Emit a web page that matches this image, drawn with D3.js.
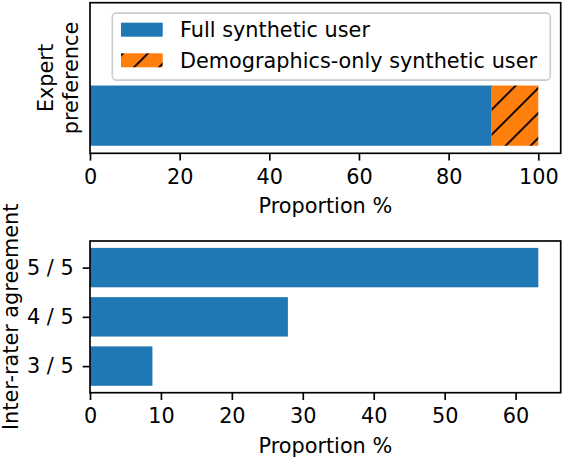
<!DOCTYPE html>
<html>
<head>
<meta charset="utf-8">
<script src="https://cdn.jsdelivr.net/npm/d3@7"></script>
<style>
  body { margin: 0; background: #fff; }
  text { font-family: "DejaVu Sans", sans-serif; fill: #000; }
</style>
</head>
<body>
<script>
(() => {
    // expert preference (stacked, one bar)
    const prefSeries = ["Full synthetic user", "Demographics-only synthetic user"]
    const prefValues = [89.6, 10.4]
    const prefTicks = [0, 20, 40, 60, 80, 100]

    // inter-rater agreement
    const agreeCats = ["3 / 5", "4 / 5", "5 / 5"]
    const agreeValues = [8.8, 27.9, 63.2]
    const agreeTicks = [0, 10, 20, 30, 40, 50, 60]

    const blue = "#1f77b4"
    const orange = "#ff7f0e"
    const fs = 20.8
    const lw = 1.67
    const tickLen = 7.3
    const width = 563
    const height = 457
    const left = 90
    const right = 560.7

    const svg = d3.select("body")
        .append("svg")
        .attr("width", width)
        .attr("height", height)

    // hatch '/' like matplotlib
    svg.append("defs").append("pattern")
        .attr("id", "hatch")
        .attr("patternUnits", "userSpaceOnUse")
        .attr("width", 25 / Math.SQRT2)
        .attr("height", 25 / Math.SQRT2)
        .attr("patternTransform", "rotate(45)")
        .call((p) => {
            p.append("rect")
                .attr("width", 25 / Math.SQRT2)
                .attr("height", 25 / Math.SQRT2)
                .attr("fill", orange)
            p.append("line")
                .attr("x1", 0).attr("y1", -2)
                .attr("x2", 0).attr("y2", 25 / Math.SQRT2 + 2)
                .attr("stroke", "#000")
                .attr("stroke-width", 3.6)
        })

    const styleAxis = (g) => {
        g.select(".domain").remove()
        g.selectAll(".tick line").attr("stroke", "#000").attr("stroke-width", lw)
        g.selectAll(".tick text")
            .attr("font-size", fs)
            .attr("font-family", "DejaVu Sans")
            .attr("fill", "#000")
    }

    // ---------- top panel ----------
    const top1 = 2.7, bot1 = 153.3
    const x1 = d3.scaleLinear().domain([0, 105]).range([left, right])
    const y1 = d3.scaleLinear().domain([-0.5, 1.5]).range([bot1, top1])

    const stacked = prefValues.map((v, i) => ({
        x0: d3.sum(prefValues.slice(0, i)),
        x1: d3.sum(prefValues.slice(0, i + 1)),
        name: prefSeries[i],
    }))
    const g1 = svg.append("g")
    g1.selectAll("rect.pref")
        .data(stacked)
        .join("rect")
        .attr("class", "pref")
        .attr("x", (d) => x1(d.x0))
        .attr("width", (d) => x1(d.x1) - x1(d.x0))
        .attr("y", y1(0.4))
        .attr("height", y1(-0.4) - y1(0.4))
        .attr("fill", (_, i) => i === 0 ? blue : "url(#hatch)")

    g1.append("g")
        .attr("transform", `translate(0,${bot1})`)
        .call(d3.axisBottom(x1).tickValues(prefTicks).tickFormat(d3.format("d"))
            .tickSize(tickLen).tickPadding(8.6))
        .call(styleAxis)

    g1.append("rect")
        .attr("x", left).attr("y", top1)
        .attr("width", right - left).attr("height", bot1 - top1)
        .attr("fill", "none").attr("stroke", "#000").attr("stroke-width", lw)

    g1.append("text")
        .attr("x", (left + right) / 2).attr("y", 213.3)
        .attr("text-anchor", "middle").attr("font-size", fs)
        .text("Proportion %")

    ;["Expert", "preference"].forEach((t, i) => {
        g1.append("text")
            .attr("transform", `translate(${53 + i * 24.5},${(top1 + bot1) / 2}) rotate(-90)`)
            .attr("text-anchor", "middle").attr("font-size", fs)
            .text(t)
    })

    // legend
    const lg = g1.append("g")
    lg.append("rect")
        .attr("x", 112.3).attr("y", 13.1)
        .attr("width", 438).attr("height", 67)
        .attr("rx", 4)
        .attr("fill", "#fff").attr("fill-opacity", 0.8)
        .attr("stroke", "#cccccc").attr("stroke-width", 1.6)
    prefSeries.forEach((name, i) => {
        const cy = 29.7 + i * 30.6
        lg.append("rect")
            .attr("x", 121).attr("y", cy - 7)
            .attr("width", 41.7).attr("height", 14)
            .attr("fill", i === 0 ? blue : "url(#hatch)")
        lg.append("text")
            .attr("x", 180).attr("y", cy).attr("dy", "0.36em")
            .attr("font-size", fs)
            .text(name)
    })

    // ---------- bottom panel ----------
    const top2 = 241, bot2 = 392.7
    const x2 = d3.scaleLinear().domain([0, d3.max(agreeValues) * 1.05]).range([left, right])
    const y2 = d3.scaleLinear().domain([-0.54, agreeCats.length - 1 + 0.54]).range([bot2, top2])

    const g2 = svg.append("g")
    g2.selectAll("rect.agree")
        .data(agreeValues)
        .join("rect")
        .attr("class", "agree")
        .attr("x", x2(0))
        .attr("width", (d) => x2(d) - x2(0))
        .attr("y", (_, i) => y2(i + 0.4))
        .attr("height", (_, i) => y2(i - 0.4) - y2(i + 0.4))
        .attr("fill", blue)

    g2.append("g")
        .attr("transform", `translate(0,${bot2})`)
        .call(d3.axisBottom(x2).tickValues(agreeTicks).tickFormat(d3.format("d"))
            .tickSize(tickLen).tickPadding(8.6))
        .call(styleAxis)

    g2.append("g")
        .attr("transform", `translate(${left},0)`)
        .call(d3.axisLeft(y2).tickValues(agreeCats.map((_, i) => i))
            .tickFormat((i) => agreeCats[i])
            .tickSize(tickLen).tickPadding(9))
        .call(styleAxis)

    g2.append("rect")
        .attr("x", left).attr("y", top2)
        .attr("width", right - left).attr("height", bot2 - top2)
        .attr("fill", "none").attr("stroke", "#000").attr("stroke-width", lw)

    g2.append("text")
        .attr("x", (left + right) / 2).attr("y", 452.7)
        .attr("text-anchor", "middle").attr("font-size", fs)
        .text("Proportion %")

    g2.append("text")
        .attr("transform", `translate(17.5,${(top2 + bot2) / 2}) rotate(-90)`)
        .attr("text-anchor", "middle").attr("font-size", fs)
        .text("Inter-rater agreement")
})()
</script>
</body>
</html>
